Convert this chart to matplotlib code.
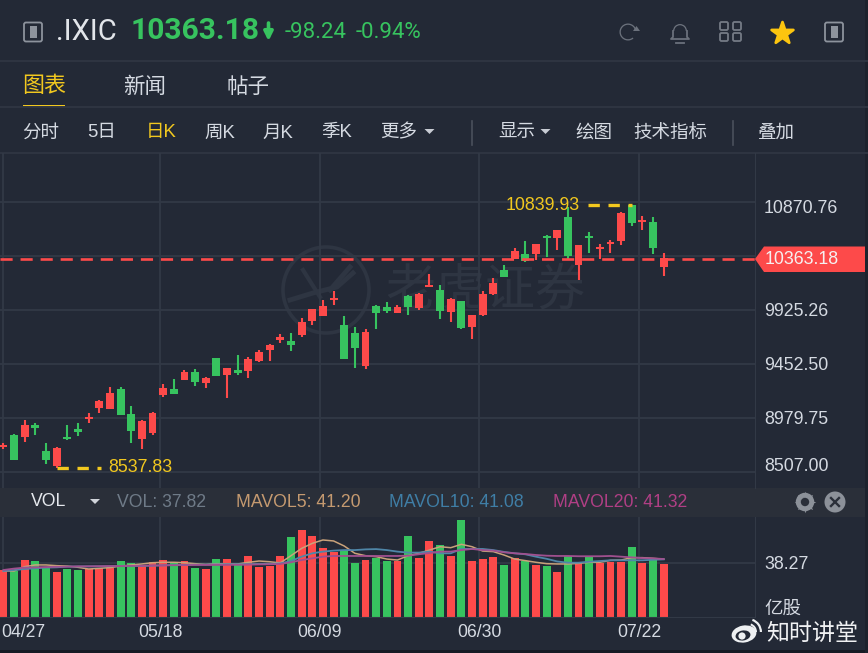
import matplotlib
matplotlib.use("Agg")
import matplotlib.pyplot as plt
from matplotlib.patches import Rectangle, Polygon, Circle, Ellipse, Wedge, FancyBboxPatch

plt.rcParams['font.family'] = ['Liberation Sans', 'Noto Sans CJK SC', 'DejaVu Sans']

W, H = 868, 653

# Daily session values, 27 Apr to 24 Jul
opens = [8722, 8827, 8812, 8917, 8686, 8553, 8806, 8882, 8967, 9060, 9054, 9227, 9010, 8792, 8844,
         9177, 9229, 9308, 9378, 9284, 9501, 9354, 9396, 9387, 9474, 9573, 9661, 9650, 9702, 9827,
         9871, 10008, 9790, 9720, 9428, 9956, 9947, 9895, 10046, 9938, 10122, 10096, 9903, 10000, 9772,
         9877, 10061, 10271, 10367, 10411, 10411, 10571, 10549, 10735, 10315, 10571, 10452, 10499, 10525, 10840,
         10694, 10691, 10297]
closes = [8736, 8608, 8914, 8888, 8608, 8715, 8794, 8853, 8984, 9124, 9192, 9004, 8864, 8949, 9019,
          9238, 9186, 9378, 9293, 9326, 9343, 9413, 9369, 9492, 9556, 9615, 9687, 9615, 9816, 9927,
          9956, 10026, 9492, 9588, 9728, 9895, 9915, 9950, 9947, 10058, 10131, 9912, 10017, 9761, 9877,
          10061, 10157, 10210, 10437, 10350, 10499, 10551, 10621, 10394, 10490, 10551, 10470, 10516, 10770, 10683,
          10709, 10464, 10376]
highs = [8757, 8833, 8958, 8929, 8759, 8720, 8914, 8929, 9017, 9130, 9249, 9249, 9080, 8955, 9025,
         9270, 9317, 9396, 9404, 9332, 9505, 9417, 9527, 9507, 9571, 9620, 9711, 9717, 9848, 9930,
         10008, 10090, 9868, 9770, 9752, 9965, 9991, 9965, 10052, 10067, 10236, 10140, 10026, 10003, 9880,
         10087, 10201, 10315, 10464, 10525, 10502, 10578, 10624, 10823, 10493, 10601, 10496, 10534, 10782, 10839.93,
         10744, 10733, 10420]
lows = [8701, 8605, 8768, 8827, 8573, 8537.83, 8783, 8818, 8934, 9022, 9054, 9004, 8754, 8707, 8827,
        9157, 9186, 9308, 9258, 9238, 9340, 9150, 9354, 9328, 9463, 9474, 9632, 9562, 9682, 9787,
        9868, 9965, 9490, 9416, 9404, 9755, 9892, 9892, 9877, 9921, 10120, 9840, 9819, 9758, 9667,
        9868, 10052, 10207, 10365, 10341, 10359, 10385, 10446, 10365, 10184, 10417, 10367, 10417, 10490, 10659,
        10621, 10411, 10219]
volumes = [33.49, 32.78, 40.62, 39.91, 34.68, 31.83, 34.2, 33.49, 34.2, 34.68, 34.68, 39.91, 38.24, 37.06, 38.96,
           40.38, 38.96, 40.15, 34.68, 34.2, 41.57, 41.1, 37.06, 43.23, 35.87, 36.34, 43.23, 57.25, 62.0, 57.73,
           48.94, 46.32, 47.51, 38.72, 40.62, 42.28, 39.67, 39.91, 57.73, 42.28, 54.4, 51.31, 43.47, 69.13, 39.67,
           41.33, 42.76, 37.29, 41.81, 40.15, 37.06, 36.34, 32.07, 43.47, 38.24, 42.52, 38.72, 39.19, 38.96, 50.13,
           38.24, 40.38, 37.82]
mavol5 = [32.8, 32.8, 35.9, 37.1, 37.1, 36.6, 36.3, 35.4, 34.2, 34.7, 35.2, 36.3, 37.1, 37.8, 38.7,
          39.0, 39.0, 38.7, 38.0, 37.5, 38.0, 37.8, 37.8, 39.0, 39.9, 39.4, 38.5, 43.7, 48.9, 52.5,
          54.9, 54.2, 50.6, 45.4, 43.7, 43.0, 41.3, 40.6, 43.7, 45.4, 47.7, 50.1, 49.4, 51.8, 50.1,
          47.0, 46.6, 44.2, 41.3, 40.2, 39.0, 38.0, 37.8, 37.8, 38.2, 39.0, 39.0, 40.4, 40.6, 42.3,
          42.3, 41.8, 41.20]
mavol10 = [32.8, 33.5, 34.2, 34.7, 35.2, 35.4, 35.9, 36.0, 36.1, 36.1, 36.2, 36.3, 36.3, 36.4, 36.6,
           36.8, 37.1, 37.1, 37.3, 37.4, 37.5, 37.6, 37.6, 37.7, 37.8, 37.9, 38.2, 39.9, 43.0, 45.4,
           46.6, 47.3, 47.7, 47.7, 48.2, 48.4, 47.7, 46.6, 45.9, 45.9, 46.6, 45.4, 45.4, 48.5, 48.5,
           48.5, 47.7, 46.4, 45.4, 44.7, 43.0, 41.5, 39.6, 38.7, 38.7, 39.4, 39.9, 40.4, 40.4, 40.4,
           40.4, 40.8, 41.08]
mavol20 = [33.5, 34.5, 35.2, 35.4, 35.6, 35.8, 35.9, 36.1, 36.1, 36.2, 36.3, 36.3, 36.4, 36.6, 36.7,
           36.8, 36.9, 37.0, 37.1, 37.1, 37.1, 37.2, 37.2, 37.3, 37.5, 37.6, 37.8, 39.0, 40.6, 41.8,
           43.0, 43.5, 43.5, 43.5, 43.5, 43.5, 43.5, 43.5, 43.7, 44.7, 45.6, 46.6, 46.6, 47.7, 48.5,
           47.7, 47.3, 46.1, 45.4, 44.9, 44.2, 43.7, 43.5, 43.5, 43.3, 43.3, 43.3, 43.5, 43.0, 42.5,
           42.0, 41.8, 41.32]
price_ticks = [8507.00, 8979.75, 9452.50, 9925.26, 10398.0, 10870.76]
price_labels = ['8507.00', '8979.75', '9452.50', '9925.26', '', '10870.76']
date_idx = [0, 14.7, 29.7, 44.7, 59.7]
date_labels = ['04/27', '05/18', '06/09', '06/30', '07/22']
vol_tick = 38.27
last_price = 10363.18
period_high, period_low = 10839.93, 8537.83

BG = '#232936'
GRID = '#323946'
RED = '#fd4a4a'
GREEN = '#37c35f'
GOLD = '#f2c81f'
TEXT = '#d5dae2'


def box(x0, y0, x1, y1):
    """Axes rectangle in figure fractions from pixel edges (y measured downward)."""
    return [x0 / W, 1 - y1 / H, (x1 - x0) / W, (y1 - y0) / H]


fig = plt.figure(figsize=(W / 100, H / 100), dpi=100, facecolor=BG)

# Page furniture drawn in pixel coordinates
ui = fig.add_axes([0, 0, 1, 1], zorder=0)
ui.set_xlim(0, W)
ui.set_ylim(H, 0)
ui.axis('off')


def label(x, y, s, size, color=TEXT, ha='left', weight='normal', family=None, ax=None):
    return (ax or ui).text(x, y + 1.5, s, fontsize=size * 0.72, color=color, ha=ha, va='center',
                           fontweight=weight, family=family or plt.rcParams['font.family'])


for y in (61, 107, 153):
    ui.plot([0, W], [y, y], color='#2f3542', lw=1.4)
ui.add_patch(Rectangle((0, 488), W, 29, color='#2a2f39', lw=0))
ui.add_patch(Rectangle((23, 105), 42, 2.2, color=GOLD, lw=0))
ui.add_patch(Rectangle((0, 650), W, 3, color='#161b24', lw=0))
ui.add_patch(Rectangle((865, 0), 3, H, color='#1d222d', lw=0))


def panel_icon(x, y, color='#8d939d'):
    ui.add_patch(FancyBboxPatch((x - 9, y - 9.5), 18, 19, boxstyle='round,pad=0,rounding_size=2',
                                fc='none', ec=color, lw=1.3))
    ui.add_patch(Rectangle((x - 3, y - 6), 6.5, 12, color=color, lw=0))


# Header row
panel_icon(33, 32)
label(56, 30.5, '.IXIC', 29, '#e2e5ea', family=['Roboto'])
label(131, 29.5, '10363.18', 30, GREEN, weight='bold', family=['Roboto'])
ui.annotate('', xy=(268.5, 41), xytext=(268.5, 23),
            arrowprops=dict(arrowstyle='-|>', color=GREEN, lw=2.6, mutation_scale=13, shrinkA=0, shrinkB=0))
label(285, 31, '-98.24', 22.3, GREEN, family=['Roboto'])
label(356, 31, '-0.94%', 22.3, GREEN, family=['Roboto'])

# Refresh, bell, grid, star and panel icons
ui.add_patch(Wedge((628, 32), 8.5, 50, 350, width=1.3, color='#6b717c', lw=0))
ui.add_patch(Polygon([[633, 31], [640, 31], [636.5, 26]], color='#6b717c', lw=0))
ui.add_patch(Wedge((680, 31), 7, 180, 360, width=1.3, color='#6b717c', lw=0))
ui.plot([673, 673, 671, 689, 687, 687], [31, 37, 39, 39, 37, 31], color='#6b717c', lw=1.3)
ui.plot([676, 684], [43, 43], color='#6b717c', lw=1.3)
for gx in (724, 737):
    for gy in (26, 37):
        ui.add_patch(FancyBboxPatch((gx - 4, gy - 4), 8, 8, boxstyle='round,pad=0,rounding_size=1.5',
                                    fc='none', ec='#747a85', lw=1.3))
ui.scatter([782], [33], marker='*', s=270, color='#fcc50f', lw=2, ec='#fcc50f', joinstyle='round')
panel_icon(834, 32)

# Tabs and toolbar
label(22.5, 85.5, '图表', 22, GOLD)
label(123.5, 85.5, '新闻', 21.5, TEXT)
label(226.5, 85.5, '帖子', 21.5, TEXT)
for x, s, c in [(22, '分时', TEXT), (87, '5日', TEXT), (146, '日K', GOLD), (204, '周K', TEXT),
                (262, '月K', TEXT), (321, '季K', TEXT), (380, '更多', TEXT), (498, '显示', TEXT),
                (575, '绘图', TEXT), (633.5, '技术指标', TEXT), (758, '叠加', TEXT)]:
    label(x, 131.5, s, 18.5, c)
for x in (424.5, 540.5):
    ui.add_patch(Polygon([[x, 129], [x + 10, 129], [x + 5, 134]], color='#c8ccd4', lw=0))
for x in (472, 733):
    ui.plot([x, x], [121, 145], color='#4a505c', lw=1.2)

# Candlestick panel
pax = fig.add_axes(box(0, 153, 755, 488), zorder=1)
pax.set_facecolor('none')
pax.set_xlim(-0.32, 70.57)
pax.set_ylim(12635 - 8.755 * 488, 12635 - 8.755 * 153)
for spine in pax.spines.values():
    spine.set_visible(False)
pax.spines['right'].set_visible(True)
pax.spines['right'].set_color(GRID)
pax.tick_params(left=False, bottom=False, labelbottom=False, labelleft=False, right=False)
pax.set_yticks(price_ticks)
pax.set_xticks(date_idx)
pax.grid(True, color=GRID, lw=1.3, zorder=0)

# Faint broker mark behind the candles
mark = '#2e3542'
pax.add_patch(Circle((326, 290), 43, transform=ui.transData, fc='none', ec=mark, lw=2.6, zorder=1))
pax.plot([290, 313, 337, 353], [300, 293, 287, 273], transform=ui.transData, color=mark, lw=3.5, zorder=1)
pax.plot([350, 330], [267, 290], transform=ui.transData, color=mark, lw=3.5, zorder=1)
pax.plot([303, 320], [270, 297], transform=ui.transData, color=mark, lw=3, zorder=1)
pax.text(485, 291, '老虎证券', transform=ui.transData, fontsize=36, color=mark, ha='center', va='center',
         family=['Noto Sans CJK SC'], zorder=1)

for i, (o, c, hi, lo) in enumerate(zip(opens, closes, highs, lows)):
    col = RED if c >= o else GREEN
    pax.vlines(i, lo, hi, color=col, lw=1.5, zorder=3)
    pax.add_patch(Rectangle((i - 0.37, min(o, c)), 0.74, max(abs(c - o), 14), color=col, lw=0, zorder=3))

pax.axhline(last_price, color=RED, lw=1.9, dashes=(4.6, 3.0), zorder=4)

# Period high and low callouts
hi_i = highs.index(period_high)
lo_i = lows.index(period_low)
pax.plot([hi_i - 4.15, hi_i], [period_high, period_high], color=GOLD, lw=2.4, dashes=(3.4, 2.6), zorder=4)
pax.plot([lo_i, lo_i + 4.2], [period_low, period_low], color=GOLD, lw=2.4, dashes=(3.4, 2.6), zorder=4)
pax.annotate(f'{period_high:.2f}', (hi_i - 4.9, period_high), ha='right', va='center',
             fontsize=12.8, color=GOLD, zorder=5)
pax.annotate(f'{period_low:.2f}', (lo_i + 4.85, period_low), ha='left', va='center',
             fontsize=12.8, color=GOLD, zorder=5)

for tick, text, dy in zip(price_ticks, price_labels, [-7, 0, 0, 0, 0, 5]):
    if text:
        pax.annotate(text, (1, tick), xycoords=('axes fraction', 'data'), xytext=(6.4, -(dy + 1.5) * 0.72),
                     textcoords='offset points', va='center', ha='left', fontsize=12.8, color=TEXT,
                     annotation_clip=False)

# Last price tag
ui_top = fig.add_axes([0, 0, 1, 1], zorder=3)
ui_top.set_xlim(0, W)
ui_top.set_ylim(H, 0)
ui_top.axis('off')
ui_top.add_patch(Polygon([[755, 259], [764, 246.5], [865, 246.5], [865, 272], [764, 272]], color=RED, lw=0))
label(765, 258.5, f'{last_price:.2f}', 17.8, '#f6f0f0', ax=ui_top)

# VOL strip
label(31, 500, 'VOL', 17.6, '#e6e9ee')
ui.add_patch(Polygon([[90, 499], [100, 499], [95, 504]], color='#d0d4da', lw=0))
label(117, 501, f'VOL: {volumes[-1]:.2f}', 17.6, '#6f7b88')
label(236, 501, f'MAVOL5: {mavol5[-1]:.2f}', 17.6, '#c59a70')
label(389, 501, f'MAVOL10: {mavol10[-1]:.2f}', 17.6, '#3f7ea6')
label(553, 501, f'MAVOL20: {mavol20[-1]:.2f}', 17.6, '#b03f85')

# Gear and close buttons
gear = '#8c9199'
ui.add_patch(Circle((805, 502), 7, fc='none', ec=gear, lw=3.2))
ui.scatter([805], [502], marker=(8, 1, 0), s=240, color=gear, lw=0, zorder=1)
ui.add_patch(Circle((805, 502), 4.2, color='#2a2f39', lw=0, zorder=2))
ui.add_patch(Circle((835, 502), 10.5, color=gear, lw=0))
ui.plot([831, 839], [498, 506], color='#2a2f39', lw=1.7)
ui.plot([831, 839], [506, 498], color='#2a2f39', lw=1.7)

# Volume panel
vax = fig.add_axes(box(0, 517, 755, 617), zorder=1)
vax.set_facecolor('none')
vax.set_xlim(-0.32, 70.57)
vax.set_ylim(0, 100 / 1.403)
for name, spine in vax.spines.items():
    spine.set_visible(name in ('right', 'bottom'))
    spine.set_color(GRID)
vax.tick_params(left=False, bottom=False, right=False, labelleft=False, labelbottom=False)
vax.set_xticks(date_idx)
vax.set_yticks([vol_tick])
vax.grid(True, color=GRID, lw=1.3, zorder=0)
vol_colors = [RED if c >= o else GREEN for o, c in zip(opens, closes)]
vax.bar(range(len(volumes)), volumes, width=0.74, color=vol_colors, lw=0, zorder=2)
vax.plot(mavol5, color='#c9a27a', lw=1.1, zorder=3)
vax.plot(mavol10, color='#4f86a8', lw=1.3, zorder=3)
vax.plot(mavol20, color='#a0508f', lw=1.3, zorder=3)

label(764.5, 563, f'{vol_tick:.2f}', 17.8)
label(764.5, 608, '亿股', 18.5)
for i, s in zip(date_idx, date_labels):
    xpx = 3.4 + 10.65 * i
    if i == 0:
        label(1, 631, s, 17.6)
    else:
        label(xpx, 631, s, 17.6, ha='center')

# Weibo attribution
ui_top.add_patch(Ellipse((744, 634), 25, 17, angle=-10, color='#eef0f2', lw=0))
ui_top.add_patch(Ellipse((743, 635.5), 15, 10, angle=-10, color='#232936', lw=0))
ui_top.add_patch(Circle((742, 636), 3.6, color='#eef0f2', lw=0))
ui_top.add_patch(Wedge((748, 632), 14, -70, 0, width=2.2, color='#eef0f2', lw=0))
ui_top.add_patch(Wedge((748, 632), 9, -70, 0, width=2, color='#eef0f2', lw=0))
label(766.5, 631.5, '知时讲堂', 23, '#f0f1f3', ax=ui_top)

fig.savefig('out.png', dpi=100, facecolor=BG)
